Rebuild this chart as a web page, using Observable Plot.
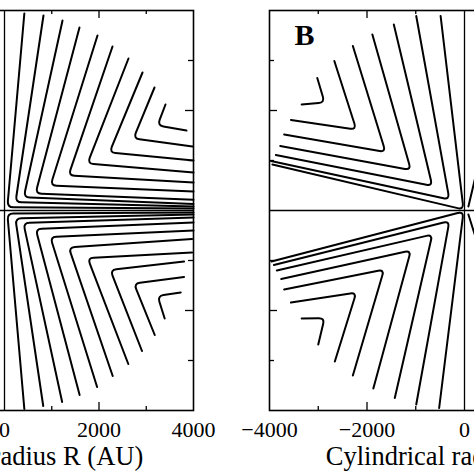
<!DOCTYPE html>
<html><head><meta charset="utf-8">
<script src="https://cdn.jsdelivr.net/npm/d3@7"></script>
<script src="https://cdn.jsdelivr.net/npm/@observablehq/plot@0.6"></script>
<style>
html,body{margin:0;padding:0;background:#fff;overflow:hidden;width:474px;height:474px;}
#wrap{position:relative;width:474px;height:474px;overflow:hidden;background:#fff;}
.panel{position:absolute;top:0;}
.panel svg{max-width:none;overflow:visible;background:transparent;}
</style></head><body><div id="wrap"><div id="left" class="panel"></div><div id="right" class="panel"></div></div>
<script>
// ---- data (AU) ----
const xTitle = "Cylindrical radius R (AU)";
const panelLabel = "B";
const xTickLabels = [-4000, -2000, 0, 2000, 4000];
const majorTicks = [-2000, 2000];
const minorTicks = [-3000, -1000, 1000, 3000];

// left panel, contours above the midplane: [start, corner, end]
const leftUpperLines = [
  [[420, 3940], [60, 66], [4000, 40]],
  [[825, 3900], [233, 166], [4000, 80]],
  [[1228, 3800], [408, 266], [4000, 130]],
  [[1587, 3660], [656, 340], [4000, 214]],
  [[1968, 3500], [974, 500], [4000, 380]],
  [[2286, 3280], [1354, 700], [4000, 560]],
  [[2624, 3040], [1757, 940], [4000, 760]],
  [[2921, 2760], [2222, 1160], [4000, 1000]],
  [[3175, 2460], [2730, 1440], [3979, 1280]],
  [[3407, 2120], [3238, 1700], [3852, 1600]]
];
// left panel, contours below the midplane
const leftLowerLines = [
  [[420, -3970], [60, -60], [4000, -40]],
  [[820, -3910], [230, -160], [4000, -80]],
  [[1220, -3830], [400, -250], [4000, -140]],
  [[1590, -3690], [660, -370], [4000, -240]],
  [[1960, -3530], [970, -530], [4000, -400]],
  [[2290, -3310], [1360, -740], [3970, -570]],
  [[2620, -3070], [1760, -950], [3970, -840]],
  [[2910, -2810], [2240, -1190], [3800, -1020]],
  [[3180, -2490], [2740, -1460], [3800, -1330]],
  [[3390, -2160], [3240, -1710], [3730, -1640]]
];
// panel B, contours above the midplane
const rightUpperLines = [
  [[-490, 3890], [-20, 20], [-3940, 920]],
  [[-990, 3890], [-310, 220], [-3970, 990]],
  [[-1450, 3720], [-660, 490], [-3870, 1110]],
  [[-1890, 3520], [-1100, 810], [-3780, 1290]],
  [[-2290, 3290], [-1620, 1170], [-3700, 1520]],
  [[-2670, 2990], [-2220, 1620], [-3560, 1810]],
  [[-3020, 2650], [-2870, 2160], [-3340, 2120]],
  [[80, 80], [330, 1110]]
];
// panel B, contours below the midplane
const rightLowerLines = [
  [[-520, -3950], [-20, -20], [-3960, -1020]],
  [[-990, -3880], [-310, -210], [-3910, -1090]],
  [[-1430, -3750], [-660, -480], [-3850, -1200]],
  [[-1870, -3560], [-1100, -800], [-3760, -1370]],
  [[-2290, -3300], [-1650, -1180], [-3700, -1580]],
  [[-2660, -3020], [-2220, -1640], [-3560, -1840]],
  [[-3000, -2680], [-2870, -2150], [-3340, -2160]],
  [[80, -80], [330, -850]]
];

// ---- rendering ----
function roundCorners(radius) {
  return function(context) {
    let pts = [];
    return {
      areaStart() {}, areaEnd() {},
      lineStart() { pts = []; },
      point(x, y) { pts.push([+x, +y]); },
      lineEnd() {
        const n = pts.length;
        if (!n) return;
        context.moveTo(pts[0][0], pts[0][1]);
        for (let i = 1; i < n - 1; i++) {
          const [px, py] = pts[i - 1], [cx, cy] = pts[i], [nx, ny] = pts[i + 1];
          const d1 = Math.hypot(px - cx, py - cy), d2 = Math.hypot(nx - cx, ny - cy);
          const r1 = Math.min(radius, d1 / 2), r2 = Math.min(radius, d2 / 2);
          context.lineTo(cx + (px - cx) / d1 * r1, cy + (py - cy) / d1 * r1);
          context.quadraticCurveTo(cx, cy, cx + (nx - cx) / d2 * r2, cy + (ny - cy) / d2 * r2);
        }
        if (n > 1) context.lineTo(pts[n - 1][0], pts[n - 1][1]);
      }
    };
  };
}

const fmt = d => (d < 0 ? "\u2212" + Math.abs(d) : String(d));

function makePanel(lines, {mL, mR, frameW, label}) {
  const mT = 10, mB = 64, H = 474, innerH = 400;
  const rows = lines.flatMap((pts, i) => pts.map(([x, y]) => ({id: i, x, y})));
  const marks = [
    Plot.ruleX([0], {stroke: "#000", strokeWidth: 1.3}),
    Plot.ruleY([0], {stroke: "#000", strokeWidth: 1.3}),
    Plot.line(rows, {x: "x", y: "y", z: "id", curve: roundCorners(6), stroke: "#000", strokeWidth: 2, strokeLinejoin: "round", strokeLinecap: "round"}),
    Plot.tickX(majorTicks, {x: d => d, insetTop: innerH - 8, stroke: "#000", strokeWidth: 1.3}),
    Plot.tickX(minorTicks, {x: d => d, insetTop: innerH - 4, stroke: "#000", strokeWidth: 1.3}),
    Plot.tickX(majorTicks, {x: d => d, insetBottom: innerH - 8, stroke: "#000", strokeWidth: 1.3}),
    Plot.tickX(minorTicks, {x: d => d, insetBottom: innerH - 4, stroke: "#000", strokeWidth: 1.3}),
    Plot.tickY(majorTicks, {y: d => d, insetLeft: frameW - 8, stroke: "#000", strokeWidth: 1.3}),
    Plot.tickY(minorTicks, {y: d => d, insetLeft: frameW - 5, stroke: "#000", strokeWidth: 1.3}),
    Plot.tickY(majorTicks, {y: d => d, insetRight: frameW - 8, stroke: "#000", strokeWidth: 1.3}),
    Plot.tickY(minorTicks, {y: d => d, insetRight: frameW - 5, stroke: "#000", strokeWidth: 1.3}),
    Plot.frame({stroke: "#000", strokeWidth: 1.6}),
    Plot.axisX(xTickLabels, {anchor: "bottom", tickSize: 0, tickPadding: 11, fontSize: 22, tickFormat: fmt, label: null}),
    Plot.text([xTitle], {text: d => d, frameAnchor: "bottom", lineAnchor: "top", dy: 36, fontSize: 26.5})
  ];
  if (label) {
    marks.push(Plot.text([label], {text: d => d, frameAnchor: "top-left", textAnchor: "start", lineAnchor: "top", dx: 25, dy: 13, fontSize: 30, fontWeight: "bold"}));
  }
  return Plot.plot({
    width: mL + frameW + mR,
    height: H,
    marginLeft: mL, marginRight: mR, marginTop: mT, marginBottom: mB,
    x: {domain: [-4000, 4000], axis: null},
    y: {domain: [-4000, 4000], axis: null},
    style: {fontFamily: "'Liberation Serif', 'Times New Roman', serif", color: "#000", background: "transparent", overflow: "visible", maxWidth: "none"},
    marks
  });
}

const leftDiv = document.getElementById("left");
leftDiv.style.left = "-195px";
leftDiv.appendChild(makePanel([...leftUpperLines, ...leftLowerLines], {mL: 10, mR: 30, frameW: 378}));

const rightDiv = document.getElementById("right");
rightDiv.style.left = "234px";
rightDiv.appendChild(makePanel([...rightUpperLines, ...rightLowerLines], {mL: 35, mR: 10, frameW: 390, label: panelLabel}));
</script>
</body></html>
